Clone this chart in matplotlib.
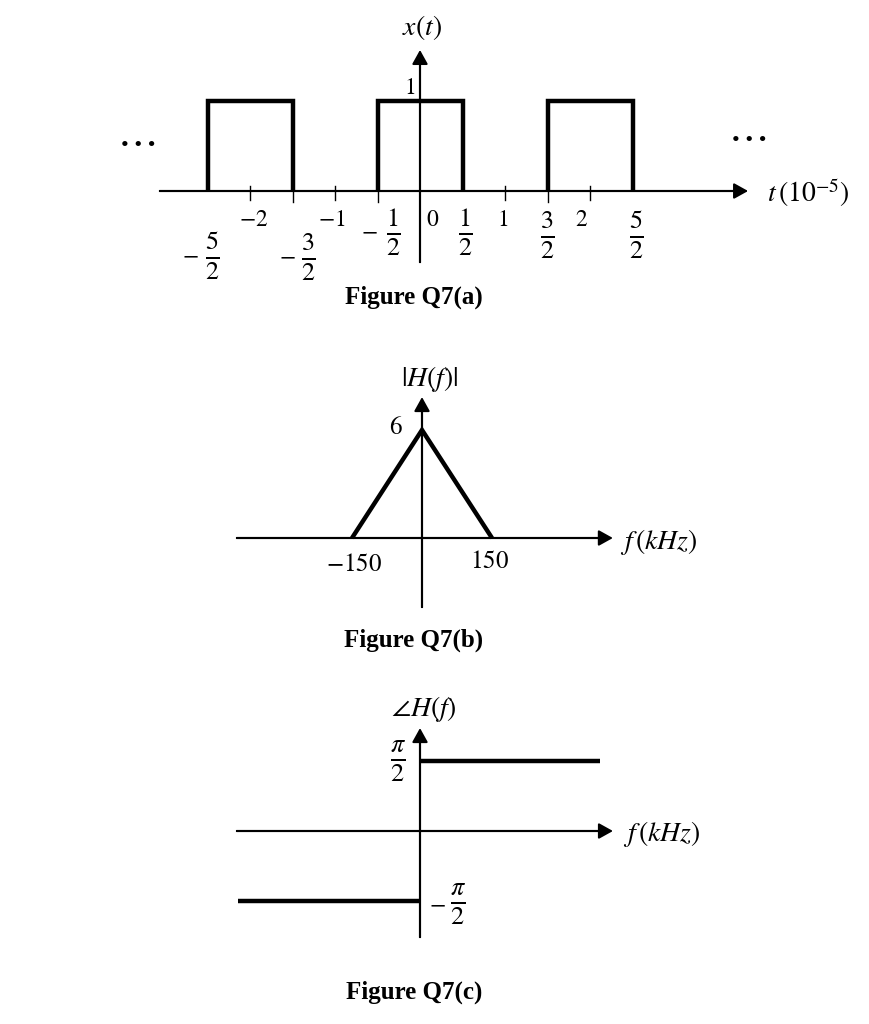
import matplotlib
matplotlib.use('Agg')
import matplotlib.pyplot as plt

plt.rcParams['mathtext.fontset'] = 'stix'
plt.rcParams['font.family'] = ['Liberation Serif', 'DejaVu Serif']

# ---------------- data ----------------
# Figure Q7(a): periodic rectangular pulse train x(t), t in units of 1e-5 s
pulse_starts = [-2.5, -0.5, 1.5]
pulse_width = 1.0
pulse_amp = 1.0
int_ticks = [-2, -1, 1, 2]
int_tick_labels = [r'$-2$', r'$-1$', r'$1$', r'$2$']
half_ticks = [-2.5, -1.5, -0.5, 0.5, 1.5, 2.5]
half_tick_nums = ['5', '3', '1', '1', '3', '5']
half_tick_dens = ['2', '2', '2', '2', '2', '2']
half_tick_neg = [True, True, True, False, False, False]

# Figure Q7(b): |H(f)| triangle, f in kHz
mag_f = [-150, 0, 150]
mag_H = [0, 6, 0]
mag_tick_labels = [r'$-150$', r'$150$']

# Figure Q7(c): phase of H(f)
phase_f_neg = [-390, 0]
phase_f_pos = [0, 386]
phase_neg = -3.141592653589793 / 2
phase_pos = 3.141592653589793 / 2

W, H = 869, 1024
fig = plt.figure(figsize=(W / 100, H / 100), dpi=100)
fig.patch.set_facecolor('white')


def make_ax(top, bot, ox, oy, sx, sy):
    ax = fig.add_axes([0, 1 - bot / H, 1, (bot - top) / H])
    ax.set_xlim(-ox / sx, (W - ox) / sx)
    ax.set_ylim((oy - bot) / sy, (oy - top) / sy)
    ax.axis('off')
    return ax


def arrow(ax, start, tip):
    ax.annotate('', xy=tip, xytext=start,
                arrowprops=dict(arrowstyle='-|>,head_length=0.45,head_width=0.25',
                                mutation_scale=19, lw=1.5, color='black',
                                shrinkA=0, shrinkB=0))


def lab(ax, s, xy, dx, dy, size, ha='center', va='center'):
    ax.annotate(s, xy=xy, xytext=(dx, dy), textcoords='offset pixels',
                ha=ha, va=va, fontsize=size, color='black')


def frac(ax, num, den, xy, dx, dy, size, neg=False, mdx=0):
    # \frac shrinks its parts by 0.7 -> enlarge so digits match the reference
    lab(ax, r'$\frac{%s}{%s}$' % (num, den), xy, dx, dy, size * 1.1 / 0.7)
    if neg:
        lab(ax, r'$-$', xy, mdx, dy, size)


AXLW = 1.5
PLW = 3.2

# ---------------- (a) ----------------
sx_a, sy_a = 85.0, 90.0
axa = make_ax(0, 320, 420, 191, sx_a, sy_a)
t_left, t_tip = -3.06, 3.86
v_bot, v_tip = -0.79, 1.567
axa.plot([t_left, t_tip - 0.1], [0, 0], color='black', lw=AXLW)
arrow(axa, (t_left, 0), (t_tip, 0))
axa.plot([0, 0], [v_bot, v_tip - 0.1], color='black', lw=AXLW)
arrow(axa, (0, v_bot), (0, v_tip))

for s in pulse_starts:
    xs = [s, s, s + pulse_width, s + pulse_width]
    ys = [0, pulse_amp, pulse_amp, 0]
    axa.plot(xs, ys, color='black', lw=PLW, solid_joinstyle='miter',
             solid_capstyle='butt')

for t in int_ticks:
    axa.plot([t, t], [-0.1, 0.06], color='black', lw=1.0)
for t in [-1.5, -0.5, 1.5]:
    axa.plot([t, t], [-0.12, 0], color='black', lw=1.0)

FA = 17
int_dx = [4, -3, -2, -8]
for t, s, dx in zip(int_ticks, int_tick_labels, int_dx):
    lab(axa, s, (t, 0), dx, -29, FA)
frac_dx = [5, 16, 16, 3, 0, 4]
minus_dx = [-17, -5, -8, 0, 0, 0]
frac_dy = [-65, -66, -41, -41, -44, -44]
for t, n, d, ng, dx, mdx, dy in zip(half_ticks, half_tick_nums, half_tick_dens,
                                    half_tick_neg, frac_dx, minus_dx, frac_dy):
    frac(axa, n, d, (t, 0), dx, dy, FA, ng, mdx)
lab(axa, r'$0$', (0, 0), 13, -29, FA)
lab(axa, r'$1$', (0, pulse_amp), -10, 13, FA)
lab(axa, r'$x(t)$', (0, v_tip), 2, 22, 20)
lab(axa, r'$t\,(10^{-5})$', (t_tip, 0), 19, -2, 20, ha='left')
axa.text(-3.32, 0.49, '• • •', ha='center', va='center', fontsize=16)
axa.text(3.87, 0.545, '• • •', ha='center', va='center', fontsize=16)
fig.text(414 / W, 1 - 297 / H, 'Figure Q7(a)', ha='center', va='center',
         fontsize=18, fontweight='bold')

# ---------------- (b) ----------------
sx_b, sy_b = 70.0 / 150.0, 18.0
axb = make_ax(320, 670, 422, 538, sx_b, sy_b)
f_left, f_tip = -396, 409
vb_bot, vb_tip = -3.83, 7.83
axb.plot([f_left, f_tip - 20], [0, 0], color='black', lw=AXLW)
arrow(axb, (f_left, 0), (f_tip, 0))
axb.plot([0, 0], [vb_bot, vb_tip - 0.5], color='black', lw=AXLW)
arrow(axb, (0, vb_bot), (0, vb_tip))
axb.plot(mag_f, mag_H, color='black', lw=PLW, solid_joinstyle='miter',
         solid_capstyle='butt')

FB = 18
lab(axb, mag_tick_labels[0], (mag_f[0], 0), 2, -27, FB)
lab(axb, mag_tick_labels[1], (mag_f[2], 0), -3, -24, FB)
lab(axb, r'$6$', (0, mag_H[1]), -26, 2, FB)
lab(axb, r'$|H(f)|$', (0, vb_tip), 8, 18, 20)
lab(axb, r'$f\,(kHz)$', (f_tip, 0), 7, -4, 20, ha='left')
fig.text(414 / W, 1 - 640 / H, 'Figure Q7(b)', ha='center', va='center',
         fontsize=18, fontweight='bold')

# ---------------- (c) ----------------
sx_c, sy_c = 70.0 / 150.0, 70.0 / phase_pos
axc = make_ax(670, 1024, 420, 831, sx_c, sy_c)
fc_left, fc_tip = -392, 413.5
vc_bot, vc_tip = -2.38, 2.31
axc.plot([fc_left, fc_tip - 20], [0, 0], color='black', lw=AXLW)
arrow(axc, (fc_left, 0), (fc_tip, 0))
axc.plot([0, 0], [vc_bot, vc_tip - 0.2], color='black', lw=AXLW)
arrow(axc, (0, vc_bot), (0, vc_tip))
axc.plot(phase_f_pos, [phase_pos, phase_pos], color='black', lw=PLW,
         solid_capstyle='butt')
axc.plot(phase_f_neg, [phase_neg, phase_neg], color='black', lw=PLW,
         solid_capstyle='butt')

frac(axc, r'\pi', '2', (0, phase_pos), -22, -1, FB * 0.95)
frac(axc, r'\pi', '2', (0, phase_neg), 38, -4, FB * 0.95, True, 17)
lab(axc, r'$\angle H(f)$', (0, vc_tip), 4, 19, 20)
lab(axc, r'$f\,(kHz)$', (fc_tip, 0), 10, -3, 20, ha='left')
fig.text(414 / W, 1 - 992 / H, 'Figure Q7(c)', ha='center', va='center',
         fontsize=18, fontweight='bold')

fig.savefig('out.png', dpi=100, facecolor='white')
